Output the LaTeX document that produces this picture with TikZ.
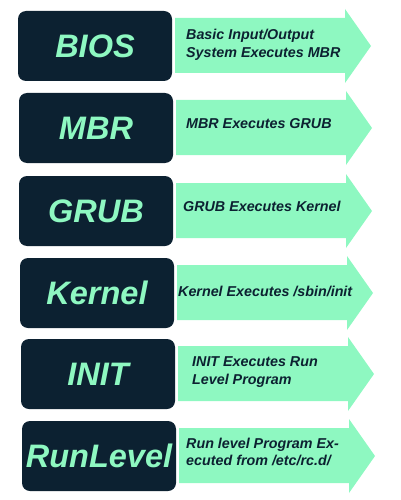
\documentclass[tikz,border=0pt]{standalone}
\usepackage{fontspec}
\setmainfont{Liberation Sans}
\usepackage{tikz}
\usetikzlibrary{positioning}
\definecolor{BootNavy}{HTML}{0C2131}
\definecolor{BootMint}{HTML}{8EF8C1}
% arrow band: left x, top y (y runs downwards)
\newcommand{\execarrow}[2]{%
  \fill[BootMint] (#1,#2+7) -- ++(170,0) -- ++(0,-9) -- ++(26,37)
    -- ++(-26,37) -- ++(0,-10) -- ++(-170,0) -- cycle;}

\begin{document}
\begin{tikzpicture}[
        x=1pt, y=-1pt,
        stage/.style={
            fill=BootNavy,
            rounded corners=8pt,
            minimum width=154pt,
            minimum height=70pt,
            inner sep=0pt,
            text=BootMint,
            font=\fontsize{32.5}{32.5}\selectfont\bfseries\itshape
        },
        note/.style={
            anchor=west,
            align=left,
            inner sep=0pt,
            text=BootNavy,
            font=\fontsize{14.3}{17.5}\selectfont\bfseries\itshape
        }
    ]
        \useasboundingbox (0,0) rectangle (400,500);
        % left column
        \node[stage] (bios) at (95,46) {BIOS};
        \node[stage] (mbr) at (96,128) {MBR};
        \node[stage] (grub) at (96,211) {GRUB};
        \node[stage] (kernel) at (97,293) {Kernel};
        \node[stage] (init) at (98,374) {INIT};
        \node[stage] (runlevel) at (99,456) {RunLevel};
        % arrows
        \execarrow{175}{11}
        \execarrow{176}{93}
        \execarrow{176}{176}
        \execarrow{177}{258}
        \execarrow{178}{339}
        \execarrow{179}{421}
        % texts
        \node[note] (biosnote) at (186,45) {Basic Input/Output\\System Executes MBR};
        \node[note] (mbrnote) at (186,124) {MBR Executes GRUB};
        \node[note] (grubnote) at (183,206.5) {GRUB Executes Kernel};
        \node[note] (kernelnote) at (178,291) {Kernel Executes /sbin/init};
        \node[note] (initnote) at (192,372) {INIT Executes Run\\Level Program};
        \node[note] (runlevelnote) at (186,452) {Run level Program Ex-\\ecuted from /etc/rc.d/};
    \end{tikzpicture}
\end{document}
